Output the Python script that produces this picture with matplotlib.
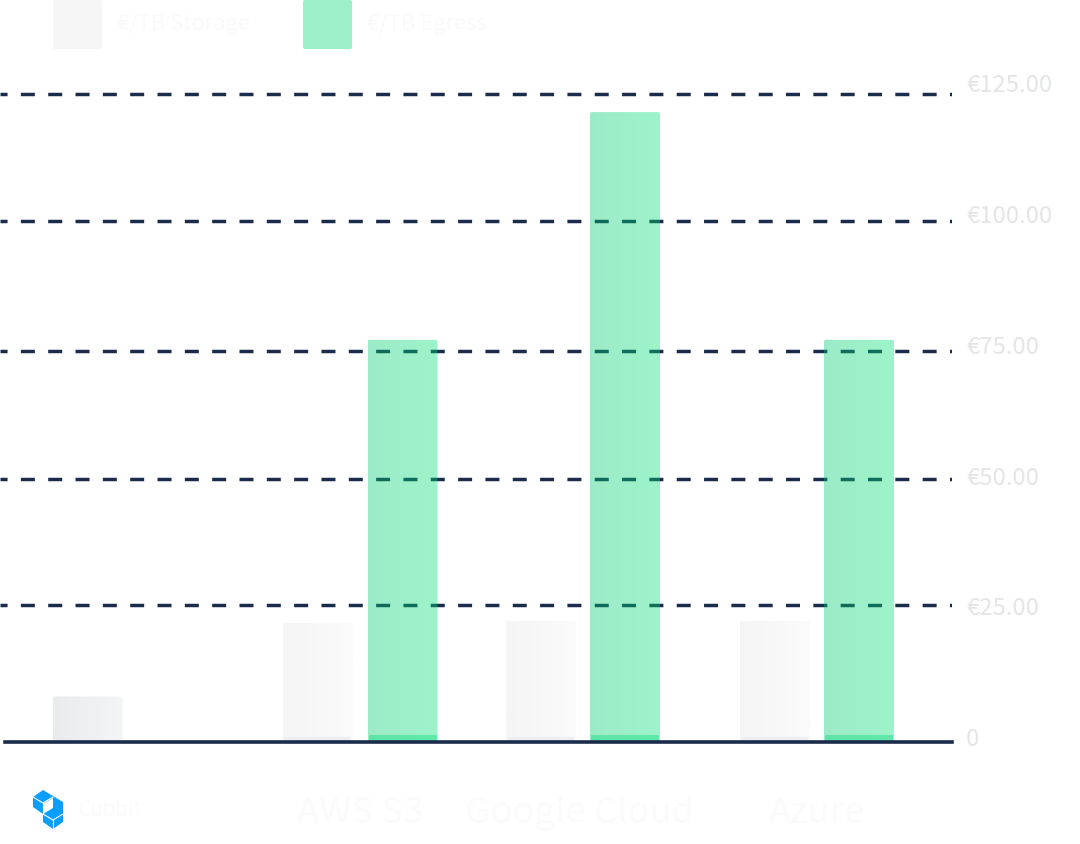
import matplotlib
matplotlib.use("Agg")
import matplotlib.pyplot as plt
import numpy as np
from matplotlib.colors import LinearSegmentedColormap
from matplotlib.patches import FancyBboxPatch, Polygon

plt.rcParams['font.family'] = ['Noto Sans CJK SC', 'DejaVu Sans']

# values
categories = ['Cubbit', 'AWS S3', 'Google Cloud', 'Azure']
storage = [8.8, 23.0, 23.4, 23.4]
egress = [0, 77.7, 121.7, 77.7]
egress_base = [0, 1.3, 1.3, 1.3]
storage_base = [0, 1.0, 1.0, 1.0]
grid_levels = [26.4, 50.9, 75.5, 100.6, 125.1]
tick_levels = [1.0, 26.3, 51.4, 76.7, 102.0, 127.3]
tick_labels = ['0', '€25.00', '€50.00', '€75.00', '€100.00', '€125.00']

W, H = 1080, 844
PX_PER_UNIT = 5.176
BASE_Y = 742
RIGHT = 952
storage_x = [87.5, 318, 541, 775]
egress_x = [None, 402.5, 625, 859]
label_x = [None, 360, 580, 817]
NAVY = '#1a2b4c'
BLUE = '#0a9fff'


def gradient_bar(ax, bar, c0, c1):
    # bars are invisible rects, the fill is a clipped gradient image
    x, w, h = bar.get_x(), bar.get_width(), bar.get_height()
    if h <= 0:
        return
    cmap = LinearSegmentedColormap.from_list('g', [c0, c1])
    img = ax.imshow(np.linspace(0, 1, 64)[None, :], cmap=cmap, aspect='auto',
                    extent=[x, x + w, 0, h], zorder=3, interpolation='bilinear')
    clip = FancyBboxPatch((x, 0), w, h, boxstyle='round,pad=0,rounding_size=2',
                          mutation_aspect=1 / PX_PER_UNIT, transform=ax.transData,
                          fc='none', ec='none')
    ax.add_patch(clip)
    img.set_clip_path(clip)


fig = plt.figure(figsize=(W / 100, H / 100), dpi=100, facecolor='white')
ax = fig.add_axes([0, (H - BASE_Y) / H, RIGHT / W, BASE_Y / H])

for lv in grid_levels:
    ax.axhline(lv, color=NAVY, lw=2.5, linestyle=(2.0, (4.03, 3.84)), zorder=1)

st = ax.bar(storage_x, storage, width=70, color='none', zorder=3)
gradient_bar(ax, st[0], '#e9ebed', '#f4f5f6')
for b in list(st)[1:]:
    gradient_bar(ax, b, '#f5f5f6', '#fbfbfb')

eg_x = egress_x[1:]
eg = ax.bar(eg_x, egress[1:], width=70, color='none', zorder=3)
for b in eg:
    gradient_bar(ax, b, (0, 204 / 255, 114 / 255, 0.39), (0, 226 / 255, 117 / 255, 0.39))

ax.bar(storage_x[1:], storage_base[1:], width=66, color='#eeeeee', zorder=4)
ax.bar(eg_x, egress_base[1:], width=68, color=(0, 219 / 255, 118 / 255, 0.39), zorder=4)

ax.set_xlim(0, RIGHT)
ax.set_ylim(0, BASE_Y / PX_PER_UNIT)
ax.patch.set_alpha(0)
for s in ['top', 'left', 'right']:
    ax.spines[s].set_visible(False)
ax.spines['bottom'].set_color(NAVY)
ax.spines['bottom'].set_linewidth(2.6)
ax.spines['bottom'].set_bounds(5, RIGHT)
ax.spines['bottom'].set_zorder(5)

ax.yaxis.tick_right()
ax.set_yticks(tick_levels, tick_labels, fontweight='light')
ax.tick_params(axis='y', length=0, pad=10, labelsize=17.2, labelcolor='#e3e5e7')
ax.set_xticks(label_x[1:], categories[1:], fontweight='light')
ax.tick_params(axis='x', length=0, pad=38, labelsize=26.3, labelcolor='#fbfbfb')

# legend and logo sit in a pixel-space overlay
ov = fig.add_axes([0, 0, 1, 1])
ov.set_xlim(0, W)
ov.set_ylim(H, 0)
ov.axis('off')
ov.patch.set_alpha(0)
for x0, fc in [(53, '#f6f6f7'), (303, '#9cf0c9')]:
    ov.add_patch(FancyBboxPatch((x0 + 1, 1), 47, 47, boxstyle='round,pad=1,rounding_size=2',
                                fc=fc, ec='none'))
ov.text(117, 24, '€/TB Storage', fontsize=15.8, color='#fafafa', va='center')
ov.text(367, 24, '€/TB Egress', fontsize=15.8, color='#fafafa', va='center')
ov.text(78, 810, categories[0], fontsize=14.8, color='#fbfbfb', va='center')

outline = [(43, 790), (33, 797), (33, 807), (43, 814), (43, 822), (53, 829),
           (63, 822), (63, 802), (53, 796)]
ov.add_patch(Polygon(outline, fc=BLUE, ec='none'))
ov.add_patch(Polygon([(43, 804), (53, 798), (53, 808), (43, 814)], fc='white', ec='none'))
for seg in [[(33, 797), (43, 803), (53, 797)], [(43, 803), (43, 814)],
            [(43, 814), (53, 820), (63, 814)], [(53, 820), (53, 829)]]:
    ov.plot(*zip(*seg), color='white', lw=0.8)

fig.savefig('out.png', dpi=100)
